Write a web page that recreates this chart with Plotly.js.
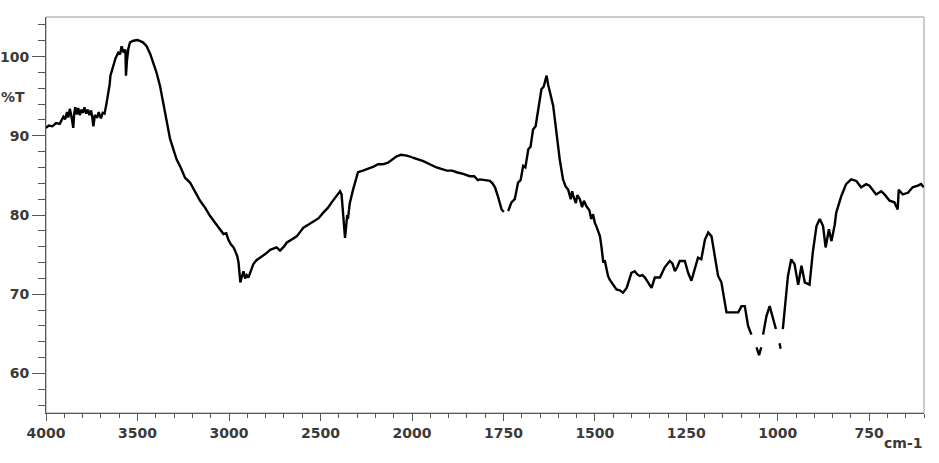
<!DOCTYPE html>
<html>
<head>
<meta charset="utf-8">
<script src="https://cdn.plot.ly/plotly-3.0.1.min.js"></script>
<style>html,body{margin:0;padding:0;background:#fff;}#chart{width:939px;height:463px;}</style>
</head>
<body>
<div id="chart"></div>
<script>
// Wavenumbers (cm-1) and %T, high-wavenumber part (4000-2000, compressed scale)
const wnHigh = [4000,3985,3965,3945,3925,3915,3905,3895,3885,3878,3870,3862,3851,3846,3840,3832,3824,3815,3806,3798,3790,3780,3772,3762,3754,3748,3741,3733,3720,3712,3700,3690,3680,3670,3660,3652,3648,3640,3630,3620,3605,3595,3587,3575,3566,3563,3558,3550,3541,3523,3500,3486,3470,3450,3430,3414,3395,3377,3350,3322,3300,3286,3268,3240,3213,3185,3158,3130,3104,3075,3049,3030,3015,3004,2990,2975,2967,2955,2948,2942,2938,2930,2921,2912,2903,2894,2880,2867,2850,2831,2800,2775,2758,2740,2721,2700,2685,2660,2630,2610,2594,2565,2539,2510,2485,2460,2439,2415,2393,2385,2375,2366,2360,2354,2350,2340,2322,2295,2268,2240,2210,2186,2160,2131,2110,2084,2060,2029,2000];
const tHigh = [91.0,91.3,91.2,91.6,91.5,92.0,92.4,92.1,93.0,92.3,93.4,92.6,91.0,92.8,93.6,92.7,93.5,92.6,93.3,92.9,93.6,92.8,93.3,92.6,93.2,92.5,91.2,92.6,92.3,93.0,92.2,92.9,92.8,94.0,95.2,96.5,97.6,98.2,99.2,99.8,100.5,100.3,101.3,100.5,100.9,97.6,99.4,101.0,101.8,102.0,102.1,102.0,101.8,101.3,100.3,99.2,97.9,96.3,92.9,89.6,88.0,87.0,86.2,84.7,84.1,83.0,81.8,80.9,79.9,79.0,78.2,77.6,77.7,76.9,76.3,75.9,75.5,74.8,74.0,72.5,71.5,72.2,72.9,72.0,72.4,72.1,73.0,73.8,74.3,74.6,75.1,75.6,75.7,75.9,75.5,76.0,76.5,76.9,77.3,77.9,78.4,78.8,79.2,79.6,80.3,80.9,81.6,82.4,83.0,82.6,79.0,77.1,78.5,80.0,79.5,81.5,83.2,85.4,85.6,85.8,86.1,86.4,86.4,86.6,87.0,87.4,87.6,87.5,87.3];

// Low-wavenumber part (2000-600, expanded scale); null = break in the trace
const wnLow = [2000,1996,1969,1950,1933,1905,1890,1878,1860,1842,1830,1820,1814,1800,1787,1780,1773,1764,1755,1749,1740,1737,1728,1719,1714,1710,1703,1696,1690,1682,1676,1669,1662,1655,1646,1640,1637,1632,1628,1623,1614,1605,1596,1587,1580,1573,1566,1562,1559,1552,1548,1541,1535,1530,1523,1515,1510,1505,1500,1496,1492,1486,1482,1477,1473,1468,1464,1459,1454,1448,1441,1432,1423,1413,1406,1400,1391,1384,1377,1370,1363,1354,1345,1336,1322,1309,1295,1288,1281,1274,1268,1254,1245,1236,1227,1218,1209,1199,1190,1181,1172,1163,1154,1140,1122,1108,1099,1090,1081,1072,1065,1058,1051,1045,1042,1040,1031,1022,1013,1005,999,995,992,989,986,981,972,963,954,944,935,926,913,904,894,885,876,869,860,853,844,840,826,813,799,785,772,758,749,731,717,708,694,681,672,669,658,644,631,617,608,601];
const tLow = [87.3,87.2,86.8,86.4,86.0,85.6,85.6,85.4,85.2,84.9,84.9,84.4,84.5,84.4,84.3,84.0,83.5,82.2,80.7,80.4,null,80.5,81.6,82.0,83.0,84.1,84.4,86.2,86.0,88.3,88.6,90.8,91.2,93.3,95.9,96.2,96.7,97.6,96.5,95.5,93.8,90.4,87.0,84.5,83.6,83.2,82.0,83.0,82.4,81.5,82.5,82.0,81.0,81.8,81.1,80.6,79.5,80.1,79.0,78.6,78.0,77.3,76.0,74.0,74.3,73.0,72.3,71.8,71.5,71.0,70.6,70.5,70.2,70.8,71.8,72.7,72.9,72.5,72.3,72.4,72.1,71.5,70.8,72.1,72.1,73.4,74.2,73.9,72.9,73.5,74.2,74.2,72.7,71.7,73.1,74.6,74.4,76.9,77.8,77.3,74.8,72.3,71.5,67.7,67.7,67.7,68.5,68.5,66.0,64.9,null,63.3,62.3,63.3,null,64.9,67.2,68.5,66.8,65.6,null,63.8,63.1,null,65.6,68.0,72.3,74.4,73.8,71.2,73.6,71.5,71.2,75.3,78.6,79.5,78.6,75.9,78.2,76.7,78.8,80.3,82.4,83.9,84.5,84.3,83.5,83.9,83.7,82.6,83.0,82.6,81.8,81.6,80.7,83.2,82.6,82.8,83.5,83.7,83.9,83.5];

const yTicks = [60,70,80,90,100];
const xTicksHigh = [4000,3500,3000,2500];
const xTicksLow = [2000,1750,1500,1250,1000,750];

const lineStyle = {color:'#000', width:2.4};
const traces = [
  {x: wnHigh, y: tHigh, xaxis:'x', yaxis:'y', mode:'lines', line: lineStyle, hoverinfo:'skip', connectgaps:false},
  {x: wnLow, y: tLow, xaxis:'x2', yaxis:'y', mode:'lines', line: lineStyle, hoverinfo:'skip', connectgaps:false}
];

const tickFont = {family:'DejaVu Sans, Arial, sans-serif', size:14, color:'#3a3a3a', weight:'bold'};
const split = 366/878;
const axCommon = {
  showline:true, linecolor:'#555', linewidth:1, showgrid:false, zeroline:false,
  ticks:'outside', ticklen:7, tickwidth:1, tickcolor:'#555', tickfont:tickFont,
  tickmode:'array'
};

const layout = {
  width:939, height:463,
  margin:{l:46, r:15, t:17, b:50},
  paper_bgcolor:'#fff', plot_bgcolor:'#fff',
  showlegend:false,
  xaxis: Object.assign({}, axCommon, {domain:[0, split], range:[4000,2000], tickvals:xTicksHigh, anchor:'y',
    minor:{tick0:0, dtick:100, ticks:'outside', ticklen:4, tickcolor:'#555', showgrid:false}}),
  xaxis2: Object.assign({}, axCommon, {domain:[split, 1], range:[2000,600], tickvals:xTicksLow, anchor:'y',
    minor:{tick0:0, dtick:50, ticks:'outside', ticklen:4, tickcolor:'#555', showgrid:false}}),
  yaxis: Object.assign({}, axCommon, {range:[55,105], tickvals:yTicks, ticklen:13, anchor:'x',
    minor:{tick0:0, dtick:2, ticks:'outside', ticklen:7, tickcolor:'#555', showgrid:false}}),
  shapes:[{type:'rect', xref:'paper', yref:'paper', x0:0, x1:1, y0:0, y1:1, line:{color:'#999', width:1}, fillcolor:'rgba(0,0,0,0)', layer:'below'}],
  annotations:[
    {text:'%T', xref:'paper', yref:'paper', x:-0.0376, y:0.798, xanchor:'center', yanchor:'middle', showarrow:false, font:tickFont},
    {text:'cm-1', xref:'paper', yref:'paper', x:0.976, y:-0.076, xanchor:'center', yanchor:'middle', showarrow:false, font:tickFont}
  ]
};

Plotly.newPlot('chart', traces, layout, {staticPlot:true, displayModeBar:false});
</script>
</body>
</html>
